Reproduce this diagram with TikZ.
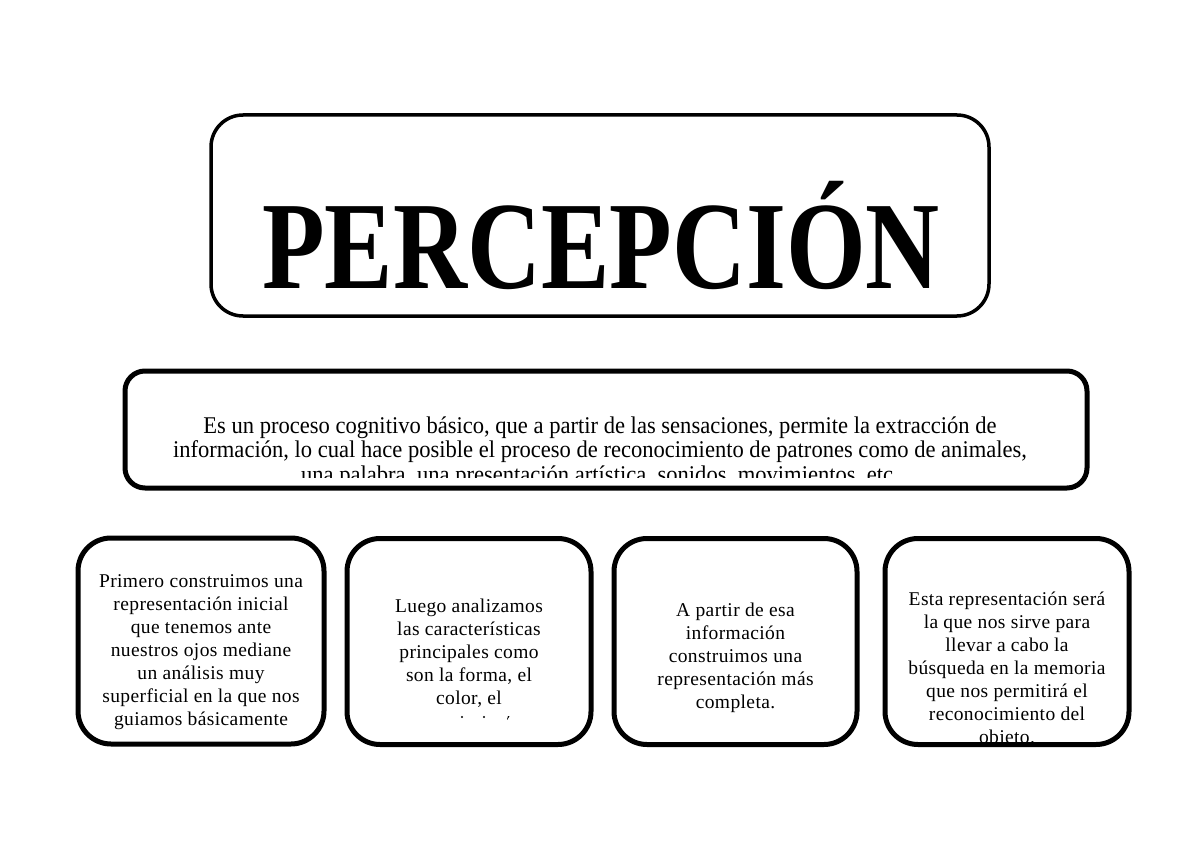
\documentclass[tikz,border=0pt]{standalone}
\usepackage{fontspec}
\setmainfont{Liberation Serif}
\newfontfamily\boxfont[LetterSpace=2]{Liberation Serif}
\begin{document}
\begin{tikzpicture}[x=1pt,y=-1pt,
  rbox/.style={draw, line width=5pt, rounded corners=33pt, inner sep=0pt},
  smallbox/.style={rbox, minimum width=244pt, minimum height=206pt},
  smalltext/.style={align=center, inner sep=0pt, font=\boxfont\fontsize{19.5}{23}\selectfont},
  desctext/.style={inner sep=0pt, anchor=base, font=\fontsize{24}{24.5}\selectfont}
]
\useasboundingbox (0,0) rectangle (1200,848);
\fill[white] (0,0) rectangle (1200,848);

% title
\node[anchor=base, inner sep=0pt] (titletext) at (601,288)
  {\scalebox{0.82}[1]{\fontsize{125}{125}\selectfont\bfseries PERCEPCIÓN}};
\node[rbox, line width=3.5pt, rounded corners=32pt, minimum width=778pt, minimum height=201pt] (title) at (600,215.5) {};

% description
\begin{scope}
  \clip (130,376) rectangle (1082,477);
  \node[desctext] (desctxt) at (600,433)
    {\scalebox{0.94}[1]{\begin{tabular}[t]{@{}c@{}}Es un proceso cognitivo básico, que a partir de las sensaciones, permite la extracción de\\
     información, lo cual hace posible el proceso de reconocimiento de patrones como de animales,\\
     una palabra, una presentación artística, sonidos, movimientos, etc.\end{tabular}}};
\end{scope}
\node[rbox, rounded corners=20pt, minimum width=962pt, minimum height=117pt] (desc) at (606,429.5) {};

% box 1
\node[smalltext] (t1) at (201,652)
  {Primero construimos una\\representación inicial\\que tenemos ante\\nuestros ojos mediane\\un análisis muy\\superficial en la que nos\\guiamos básicamente};
\node[smallbox, minimum width=246pt] (b1) at (201,641) {};

% box 2
\node[smalltext] (t2) at (469,653)
  {Luego analizamos\\las características\\principales como\\son la forma, el\\color, el};
\fill (462,717) circle (1.1pt) (484,717) circle (1.1pt);
\fill (508,716) -- (509.5,716) -- (507.5,719.5) -- (507,719.5) -- cycle;
\node[smallbox] (b2) at (469,641.5) {};

% box 3
\node[smalltext] (t3) at (735.5,658)
  {A partir de esa\\información\\construimos una\\representación más\\completa.};
\node[smallbox, minimum width=243pt] (b3) at (735.5,641.5) {};

% box 4
\begin{scope}
  \clip (890,545) rectangle (1124,741);
  \node[smalltext] (t4) at (1007,670)
    {Esta representación será\\la que nos sirve para\\llevar a cabo la\\búsqueda en la memoria\\que nos permitirá el\\reconocimiento del\\objeto.};
\end{scope}
\node[smallbox] (b4) at (1007,641.5) {};
\end{tikzpicture}
\end{document}
